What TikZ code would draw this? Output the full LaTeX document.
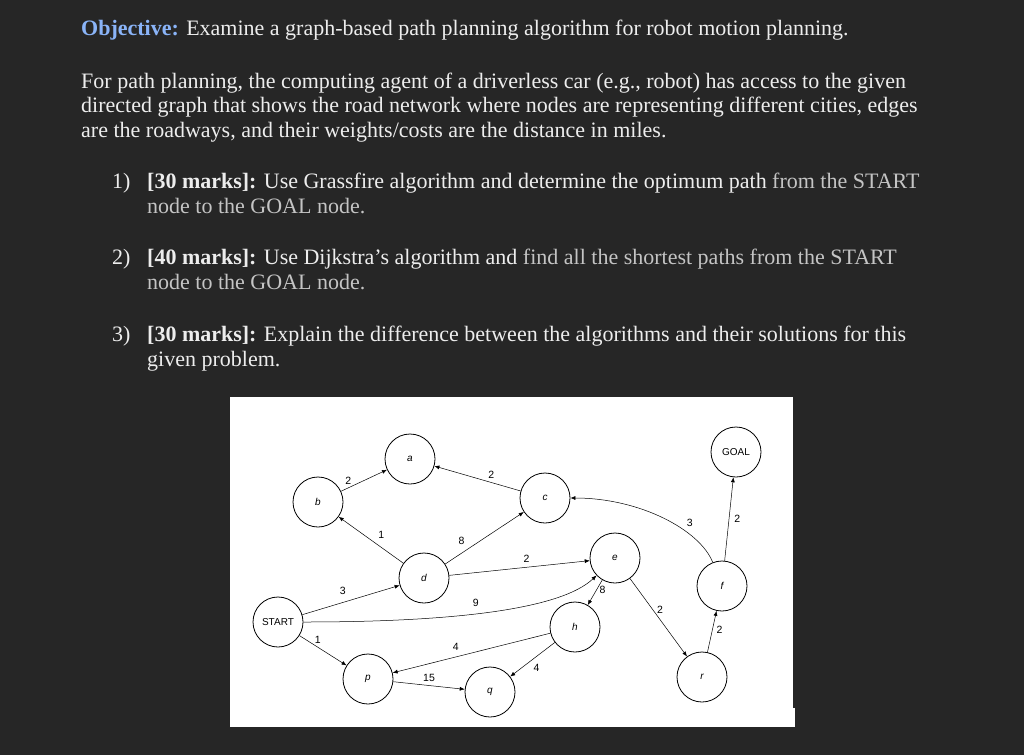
\documentclass[tikz,border=0pt]{standalone}
\usepackage{fontspec}
\setmainfont{Liberation Serif}
\newfontfamily\gsans{Liberation Sans}
\usetikzlibrary{arrows.meta}
\definecolor{bg}{HTML}{262626}
\definecolor{tx}{HTML}{EDEDED}
\definecolor{gt}{HTML}{C4C4C4}
\definecolor{ob}{HTML}{8AB4F8}
\begin{document}
\begin{tikzpicture}[x=1pt,y=-1pt,
  line/.style={anchor=base west,inner sep=0pt,text=tx,font=\fontsize{22}{24}\selectfont},
  vx/.style={circle,draw,thick,minimum size=50,inner sep=0pt,font=\gsans\itshape\fontsize{10}{12}\selectfont},
  vs/.style={vx,font=\gsans\fontsize{10}{12}\selectfont},
  ed/.style={-{Latex[length=5,width=4]},line width=0.5pt},
  wl/.style={font=\gsans\fontsize{10.5}{12}\selectfont,inner sep=1pt}]
\fill[bg] (0,0) rectangle (1024,755);
\useasboundingbox (0,0) rectangle (1024,755);
\node[line] (t0) at (81,35) {\textcolor{ob}{\textbf{Objective:}} Examine a graph-based path planning algorithm for robot motion planning.};
\node[line] (t1) at (81,88) {For path planning, the computing agent of a driverless car (e.g., robot) has access to the given};
\node[line] (t2) at (81,112) {directed graph that shows the road network where nodes are representing different cities, edges};
\node[line] (t3) at (81,137) {are the roadways, and their weights/costs are the distance in miles.};
\node[line] (n1) at (112,188) {1)};
\node[line] (i1) at (147,188) {\textbf{[30 marks]:} Use Grassfire algorithm and determine the optimum path \textcolor{gt}{from the START}};
\node[line] (i1b) at (147,213) {\textcolor{gt}{node to the GOAL node.}};
\node[line] (n2) at (112,264) {2)};
\node[line] (i2) at (147,264) {\textbf{[40 marks]:} Use Dijkstra’s algorithm and \textcolor{gt}{find all the shortest paths from the START}};
\node[line] (i2b) at (147,289) {\textcolor{gt}{node to the GOAL node.}};
\node[line] (n3) at (112,341) {3)};
\node[line] (i3) at (147,341) {\textbf{[30 marks]:} Explain the difference between the algorithms and their solutions for this};
\node[line] (i3b) at (147,366) {given problem.};
\fill[white] (230,397) rectangle (793,727);
\draw[white,line width=1.5pt] (794,708) -- (794,727);
\node[vx] (a) at (410,459) {a};
\node[vx] (b) at (318,502) {b};
\node[vx] (c) at (545,498) {c};
\node[vx] (d) at (424,578) {d};
\node[vs] (S) at (278,622) {START};
\node[vx] (p) at (368,679) {p};
\node[vx] (q) at (490,692) {q};
\node[vx] (h) at (575,627) {h};
\node[vx] (e) at (615,558) {e};
\node[vx] (f) at (722,586) {f};
\node[vx] (r) at (702,677) {r};
\node[vs] (G) at (736,452) {GOAL};
\draw[ed] (b) -- node[wl,pos=0.25,above left] {2} (a);
\draw[ed] (c) -- node[wl,pos=0.4,above right=1pt] {2} (a);
\draw[ed] (d) -- node[wl,pos=0.45,above right=3pt] {1} (b);
\draw[ed] (d) -- node[wl,pos=0.3,above left=3pt] {8} (c);
\draw[ed] (S) -- node[wl,pos=0.5,above left=4pt] {3} (d);
\draw[ed] (d) -- node[wl,pos=0.55,above=4pt] {2} (e);
\draw[ed] (S) .. controls (450,622) and (560,610) .. node[wl,pos=0.45,above=6pt] {9} (e);
\draw[ed] (h) -- node[wl,pos=0.6,above=5pt] {4} (p);
\draw[ed] (S) -- node[wl,pos=0.3,above right] {1} (p);
\draw[ed] (p) -- node[wl,pos=0.5,above=3pt] {15} (q);
\draw[ed] (h) -- node[wl,pos=0.55,below right=2pt] {4} (q);
\draw[ed] (e) -- node[wl,pos=0.4,right=2pt] {8} (h);
\draw[ed] (e) -- node[wl,pos=0.4,right=3pt] {2} (r);
\draw[ed] (r) -- node[wl,pos=0.55,right=3pt] {2} (f);
\draw[ed] (f) .. controls (700,530) and (640,498) .. node[wl,pos=0.35,above right=2pt] {3} (c);
\draw[ed] (f) -- node[wl,pos=0.5,right=4pt] {2} (G);
\end{tikzpicture}
\end{document}
